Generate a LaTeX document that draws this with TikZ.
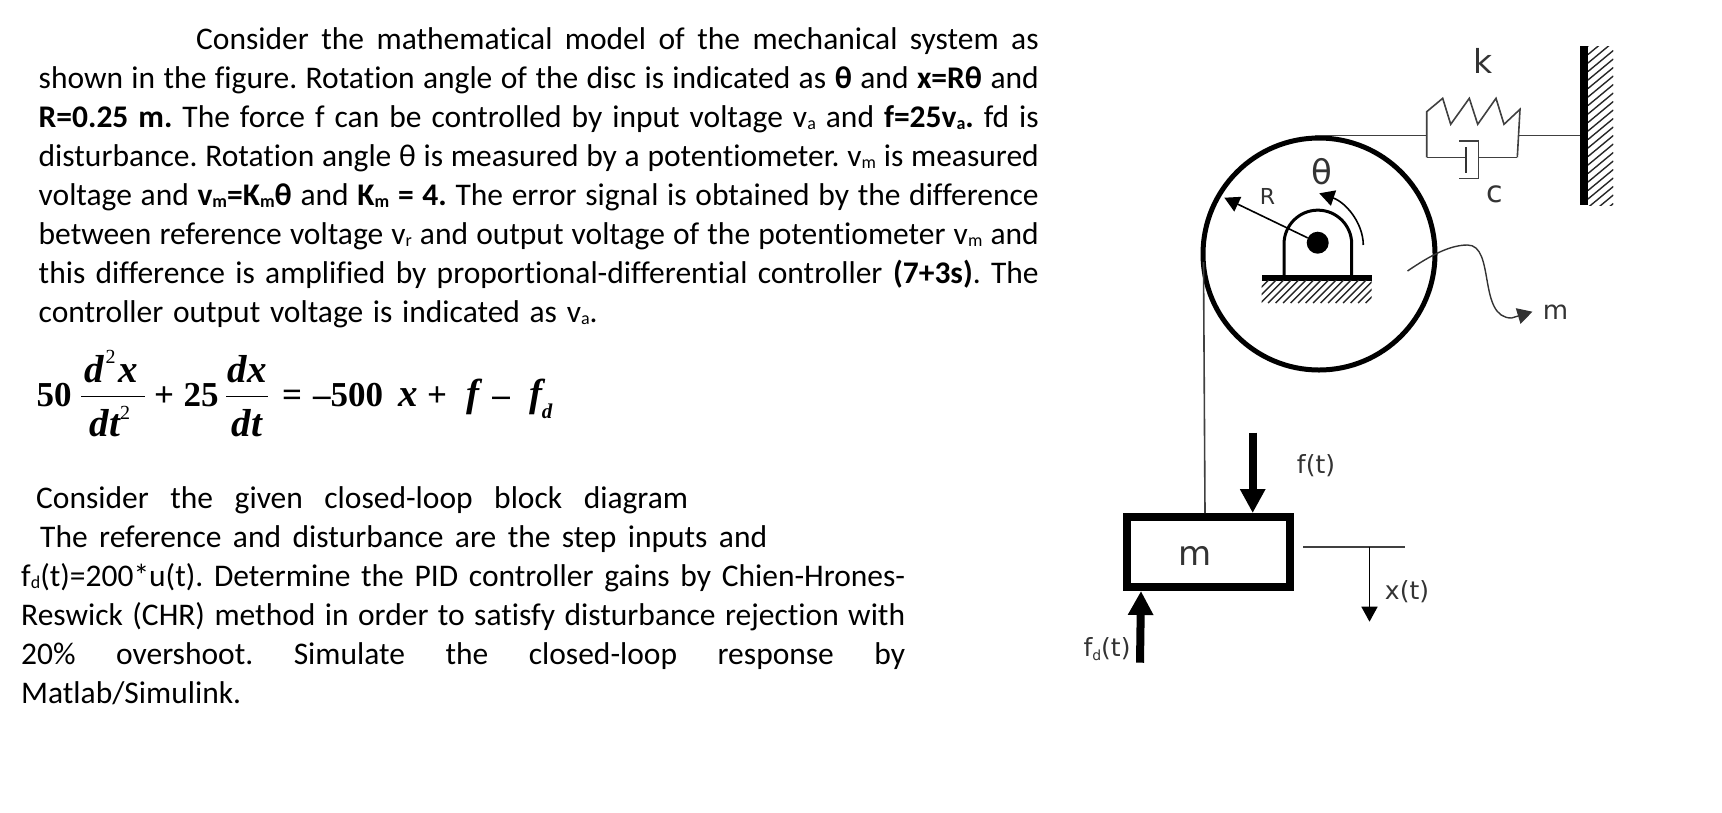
\documentclass[tikz,border=0pt]{standalone}
\usepackage{fontspec}
\setmainfont{Carlito}[Ligatures=NoCommon]
\newfontfamily\figfont{DejaVu Sans}
\newfontfamily\eqfont{Liberation Serif}
\usetikzlibrary{arrows.meta}
\frenchspacing
\newcommand{\low}[1]{\raisebox{-0.06em}{\fontsize{18}{18}\selectfont #1}}
\newcommand{\jline}[2]{\makebox[#1pt][s]{#2}}
\newcommand{\eqsup}[1]{\raisebox{#1pt}{\fontsize{20}{20}\selectfont\upshape\mdseries 2}}
\tikzset{
    txtline/.style={anchor=base west, inner sep=0, font=\fontsize{31.5}{31.5}\selectfont},
    eqnum/.style={anchor=base, inner sep=0, font=\eqfont\bfseries\fontsize{35}{35}\selectfont},
    eqvar/.style={eqnum, font=\eqfont\bfseries\itshape\fontsize{39}{39}\selectfont},
    figlabel/.style={inner sep=0, font=\figfont\fontsize{25}{25}\selectfont, black!80},
    thinline/.style={line width=1.6, black!75},
    hatch/.style={line width=1.4, black!85},
    bigarrow/.style={-{Triangle[length=24pt,width=24pt]}, line width=8},
    smallarrow/.style={-{Triangle[length=15pt,width=16pt]}, line width=1.6}
}
\begin{document}
\begin{tikzpicture}[x=1pt, y=-1pt]
    \useasboundingbox (0,0) rectangle (1722,812);

    % problem text
    \node[txtline] (pa) at (196,49.5) {\jline{842.5}{Consider the mathematical model of the mechanical system as}};
    \node[txtline] (pb) at (38.5,88.5) {\jline{1000}{shown in the figure. Rotation angle of the disc is indicated as \textbf{θ} and \textbf{x=Rθ} and}};
    \node[txtline] (pc) at (38.5,127.5) {\jline{1000}{\textbf{R=0.25 m.} The force f can be controlled by input voltage v\low{a} and \textbf{f=25v\low{a}.} fd is}};
    \node[txtline] (pd) at (38.5,166.5) {\jline{1000}{disturbance. Rotation angle θ is measured by a potentiometer. v\low{m} is measured}};
    \node[txtline] (pe) at (38.5,205.5) {\jline{1000}{voltage and \textbf{v\low{m}=K\low{m}θ} and \textbf{K\low{m} = 4.} The error signal is obtained by the difference}};
    \node[txtline] (pf) at (38.5,244.5) {\jline{1000}{between reference voltage v\low{r} and output voltage of the potentiometer v\low{m} and}};
    \node[txtline] (pg) at (38.5,283.5) {\jline{1000}{this difference is amplified by proportional-differential controller \textbf{(7+3s)}. The}};
    \node[txtline] (ph) at (38.5,322.5) {\jline{559}{controller output voltage is indicated as v\low{a}.}};

    % equation
    \node[eqnum] (eq50) at (54,406.5) {50};
    \node[eqvar] (eqnuma) at (111,382.5) {d\kern2pt\eqsup{19}\kern3pt x};
    \node[eqvar] (eqdena) at (110,436.5) {dt\eqsup{17}};
    \draw[line width=1.5] (81,396.5) -- (145,396.5);
    \node[eqnum] (eqplus) at (164,406.5) {+};
    \node[eqnum] (eq25) at (201,406.5) {25};
    \node[eqvar] (eqnumb) at (247,382.5) {dx};
    \node[eqvar] (eqdenb) at (247,436.5) {dt};
    \draw[line width=1.5] (226,396.5) -- (268,396.5);
    \node[eqnum] (eqeq) at (292,406.5) {=};
    \node[eqnum] (eq500) at (348,406.5) {–500};
    \node[eqvar] (eqx) at (408,406.5) {x};
    \node[eqnum] (eqplusb) at (437,406.5) {+};
    \node[eqvar] (eqf) at (473,406.5) {f};
    \node[eqnum] (eqminus) at (501,406.5) {–};
    \node[eqvar] (eqfb) at (536,406.5) {f};
    \node[eqvar, font=\eqfont\bfseries\itshape\fontsize{21}{21}\selectfont] (eqd) at (547,418) {d};

    % second paragraph
    \node[txtline] (qa) at (36,508.5) {\jline{652}{Consider the given closed-loop block diagram}};
    \node[txtline] (qb) at (40,547.5) {\jline{727}{The reference and disturbance are the step inputs and}};
    \node[txtline] (qc) at (21,586.5) {\jline{884}{f\low{d}(t)=200*u(t). Determine the PID controller gains by Chien-Hrones-}};
    \node[txtline] (qd) at (21,625.5) {\jline{884}{Reswick (CHR) method in order to satisfy disturbance rejection with}};
    \node[txtline] (qe) at (21,664.5) {\jline{884}{20\% overshoot. Simulate the closed-loop response by}};
    \node[txtline] (qf) at (21,703.5) {\jline{224}{Matlab/Simulink.}};

    % disc and support
    \node[circle, draw, line width=5, minimum size=232, inner sep=0] (disc) at (1319,254) {};
    \node[circle, fill, minimum size=22, inner sep=0] (pin) at (1317.7,242.7) {};
    \draw[line width=3] (1284,277) -- (1284,244) arc[start angle=180, end angle=360, radius=33.85] -- (1351.7,277);
    \fill (1261.7,275) rectangle (1371.7,280.7);
    \begin{scope}
        \clip (1261.7,280) rectangle (1371.7,303);
        \foreach \h in {1238,1245.5,...,1373} {
            \draw[hatch] (\h,303) -- ++(23,-23);
        }
    \end{scope}
    \draw[smallarrow] (pin) -- (1224.3,197.7);
    \node[figlabel, font=\figfont\fontsize{22}{22}\selectfont] (rlabel) at (1267.5,196) {R};
    \draw[smallarrow] (1363.3,245) .. controls (1363,222) and (1345,202) .. (1319.3,193.3);
    \node[figlabel, font=\figfont\fontsize{34}{34}\selectfont] (thetalabel) at (1321.5,171.5) {θ};

    % wall
    \node[fill, minimum width=8.5, minimum height=159, inner sep=0] (wall) at (1584.2,125.5) {};
    \begin{scope}
        \clip (1588,46) rectangle (1613.3,205);
        \foreach \h in {46,54.5,...,240} {
            \draw[hatch] (1588,\h) -- ++(25.3,-21);
        }
    \end{scope}

    % spring and damper
    \coordinate (discTop) at (1314.5,135.3);
    \coordinate (parL) at (1426.7,135.3);
    \coordinate (parR) at (1518.3,135.3);
    \coordinate (wallL) at (wall.west |- parR);
    \draw[thinline] (discTop) -- (parL);
    \draw[thinline] (parR) -- (wallL);
    \draw[thinline] (1426.7,157.3) -- (1426.7,111.7) -- (1442.7,98.3) -- (1450.7,124.3) -- (1469.3,98.3) -- (1477.7,124.3) -- (1496,98.3) -- (1504,124.3) -- (1520,109.3) -- (1517.3,157.3);
    \draw[thinline] (1426.7,157.3) -- (1465,157.3);
    \draw[thinline] (1478.3,157.3) -- (1517.3,157.3);
    \draw[line width=2.4, black!80] (1466,147.3) -- (1466,173.3);
    \draw[thinline] (1459.3,141) -- (1478.3,141) -- (1478.3,178.3) -- (1459.3,178.3);
    \node[figlabel, font=\figfont\fontsize{33}{33}\selectfont] (klabel) at (1482.7,61) {k};
    \node[figlabel, font=\figfont\fontsize{30}{30}\selectfont] (clabel) at (1495,194) {c};

    % output curve
    \draw[smallarrow, line width=1.4, black!80] (1407.5,271) .. controls (1429.5,256) and (1449.5,245) .. (1467.5,245)
        .. controls (1495.5,245) and (1477.5,318) .. (1511.5,318) -- (1532.5,311.7);
    \node[figlabel, font=\figfont\fontsize{26}{26}\selectfont] (mout) at (1555.5,312) {m};

    % mass and forces
    \node[draw=black, line width=8, minimum width=163, minimum height=70, inner sep=0] (mass) at (1208.5,552) {};
    \node[figlabel, font=\figfont\fontsize{34}{34}\selectfont] (mlabel) at (1195,556) {m};
    \coordinate (massTop) at (1205,513);
    \draw[thinline] (1203.5,262) -- (massTop);
    \coordinate (fTail) at (1252.7,432.7);
    \coordinate (fTip) at (1252.7,513);
    \draw[bigarrow] (fTail) -- (fTip);
    \node[figlabel] (flabel) at (1316,466) {f(t)};
    \draw[thinline] (1303,546.7) -- (1405,546.7);
    \draw[smallarrow] (1369.5,546.7) -- (1369.5,621.7);
    \node[figlabel] (xlabel) at (1407,592) {x(t)};
    \coordinate (fdTail) at (1140,662.7);
    \coordinate (fdTip) at (1141,591);
    \draw[bigarrow] (fdTail) -- (fdTip);
    \node[figlabel] (fdlabel) at (1107,649) {f\raisebox{-0.15em}{\fontsize{14}{14}\selectfont d}(t)};
\end{tikzpicture}
\end{document}
